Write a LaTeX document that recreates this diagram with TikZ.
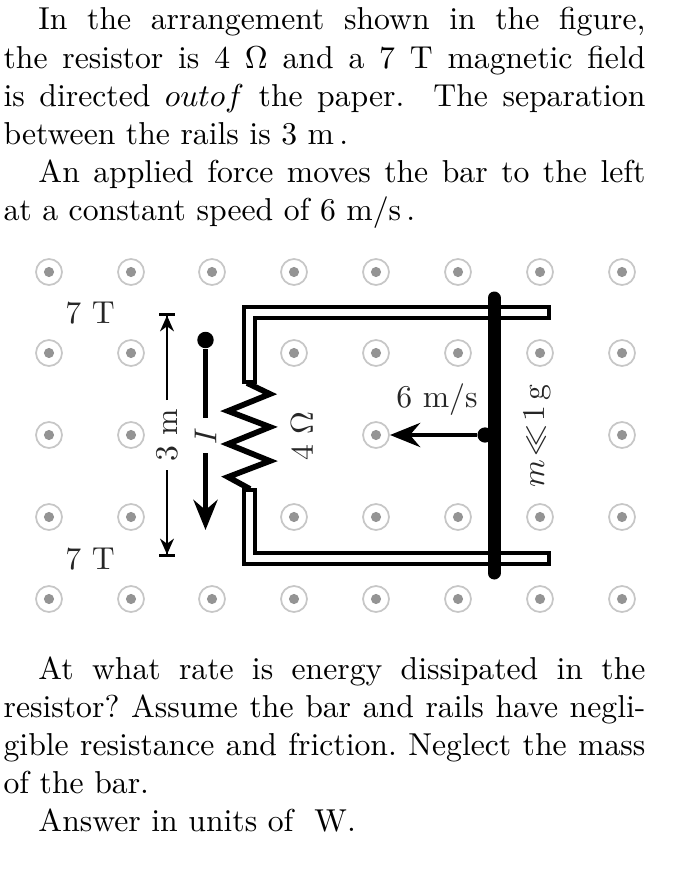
\documentclass[tikz,border=0pt]{standalone}
\usepackage{amsmath}
\usetikzlibrary{positioning}
\usetikzlibrary{arrows.meta}
\tikzset{ringdot/.style={circle, draw=black!22, line width=.55pt, fill=white, minimum size=8.2pt, inner sep=0pt,
path picture={\fill[black!42] (path picture bounding box.center) circle (1.6pt);}},
rail/.style={line width=1.1pt, fill=white, line join=miter},
textblock/.style={anchor=north west, inner sep=0pt, text width=202.5pt, align=justify, font=\frenchspacing},
label/.style={inner sep=0pt, text=black!85}}

\begin{document}
\begin{tikzpicture}[x=.3155pt, y=-.3155pt]

				\useasboundingbox (0,0) rectangle (688,872);

				\node[textblock] (intro) at (3,7) {\hspace*{11pt}In the arrangement shown in the figure,\linebreak
					the resistor is $4\ \Omega$ and a $7\ \mathrm{T}$ magnetic field\linebreak
					is directed $outof$ the paper.\ \ The separation\linebreak
					between the rails is $3\ \mathrm{m}$\,.\par
					\hspace*{11pt}An applied force moves the bar to the left\linebreak
					at a constant speed of $6\ \mathrm{m/s}$\,.};
				\node[textblock] (question) at (3,656) {\hspace*{11pt}At what rate is energy dissipated in the\linebreak
					resistor? Assume the bar and rails have negli-\linebreak
					gible resistance and friction. Neglect the mass\linebreak
					of the bar.\par
					\hspace*{11pt}Answer in units of \ W.};

				\foreach \col/\x in {a/49, b/131, c/212, d/294, e/376, f/458, g/540, h/622} {
					\node[ringdot] (top\col) at (\x,272) {};
					\node[ringdot] (bot\col) at (\x,599) {};
				}
				\foreach \col/\x in {a/49, b/131, d/294, e/376, f/458, g/540, h/622} {
					\node[ringdot] (upper\col) at (\x,353) {};
					\node[ringdot] (lower\col) at (\x,517) {};
				}
				\foreach \col/\x in {a/49, b/131, e/376, h/622} {
					\node[ringdot] (mid\col) at (\x,435) {};
				}

				\draw[rail] (244,382) -- (244,307) -- (549,307) -- (549,318) -- (255,318) -- (255,382) -- cycle;
				\draw[rail] (244,490) -- (244,564) -- (549,564) -- (549,553) -- (255,553) -- (255,490) -- cycle;

				\coordinate (restop) at (247,383);
				\coordinate (resbot) at (250,489);
				\draw[line width=1.8pt, line join=miter] (restop) -- (270,394) -- (228,411) -- (270,427) -- (228,444)
					-- (270,461) -- (228,477) -- (resbot);

				\coordinate (bartop) at (494,298);
				\coordinate (barbot) at (494,573);
				\draw[line width=4.1pt, line cap=round] (bartop) -- (barbot);

				\node[circle, fill=black, minimum size=4.8pt, inner sep=0pt] (push) at (485,435) {};
				\coordinate (pushtip) at (390,435);
				\draw[line width=1.4pt, -{Stealth[length=9.5pt, width=7.6pt, inset=3.2pt]}] (push) -- (pushtip);
				\node[label] (speed) at (437,400) {$6\ \mathrm{m/s}$};

				\node[circle, fill=black, minimum size=5.2pt, inner sep=0pt] (curstart) at (205.5,340) {};
				\node[label, rotate=90] (cur) at (205.5,436) {$I$};
				\coordinate (curtip) at (205.5,530);
				\draw[line width=1.5pt] (curstart) -- (205.5,418);
				\draw[line width=1.5pt, -{Stealth[length=9.5pt, width=7.6pt, inset=3.2pt]}] (205.5,453) -- (curtip);

				\node[label, rotate=90] (gap) at (167,435) {$3\ \mathrm{m}$};
				\coordinate (gaptop) at (167,313);
				\coordinate (gapbot) at (167,557);
				\draw[line width=.5pt, -{Stealth[length=5pt, width=4.4pt, inset=1.6pt, sep=0pt]Bar[width=5pt, line width=.8pt]}] (167,400) -- (gaptop);
				\draw[line width=.5pt, -{Stealth[length=5pt, width=4.4pt, inset=1.6pt, sep=0pt]Bar[width=5pt, line width=.8pt]}] (167,470) -- (gapbot);

				\node[label] (fieldtop) at (90,313) {$7\ \mathrm{T}$};
				\node[label] (fieldbot) at (90,559) {$7\ \mathrm{T}$};
				\node[label, rotate=90] (ohm) at (302,436) {$4\ \Omega$};
				\node[label, rotate=90] (mass) at (537,436) {$m\!\ll\!1\,\mathrm{g}$};
\end{tikzpicture}
\end{document}
